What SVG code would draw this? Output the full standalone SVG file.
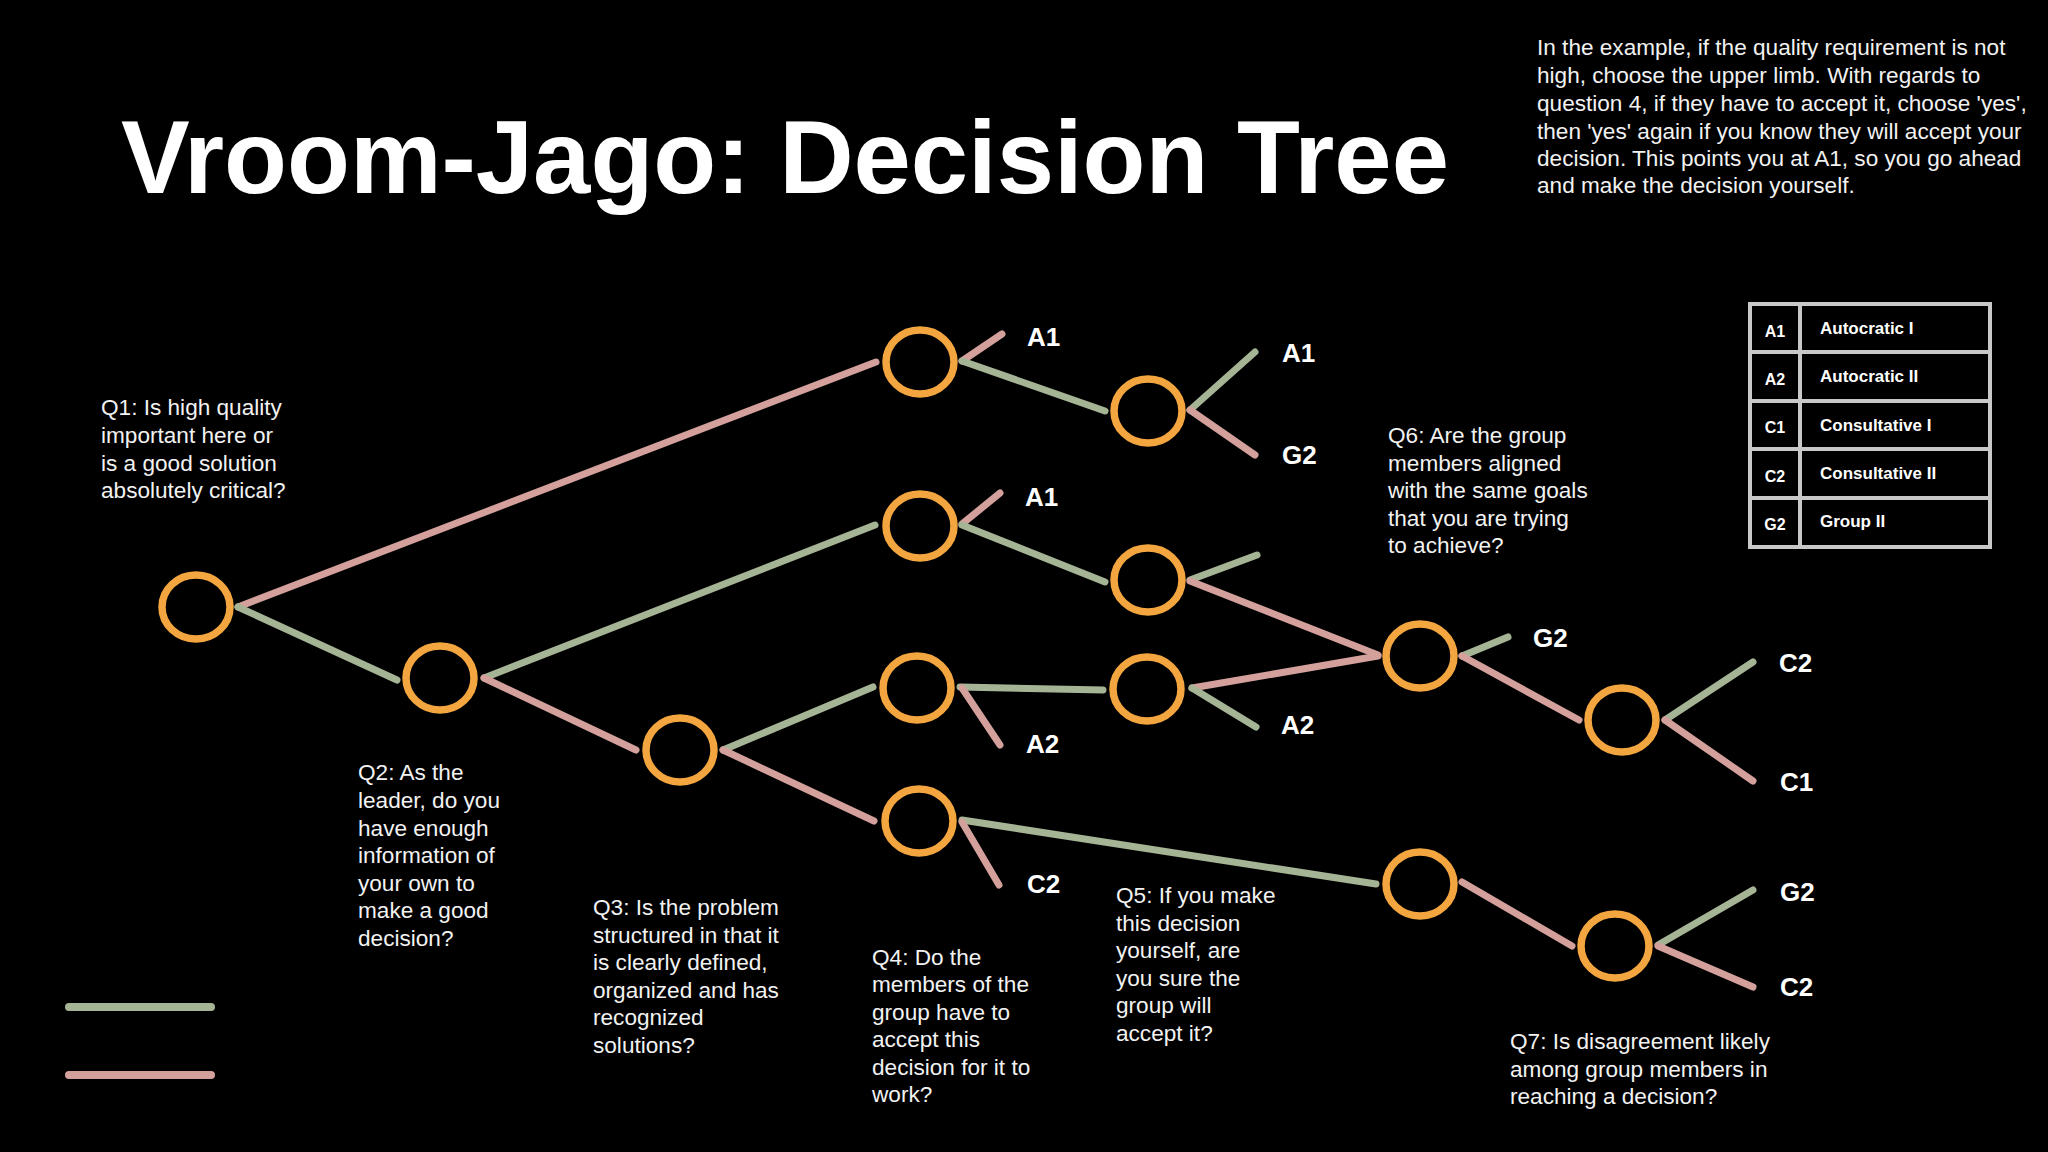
<svg xmlns="http://www.w3.org/2000/svg" width="2048" height="1152" viewBox="0 0 2048 1152">
  <style>
    .bg { fill: #000000; }
    .node { fill: none; stroke: #f3a53f; stroke-width: 7.5; }
    .yes { stroke: #a5b494; stroke-width: 7; stroke-linecap: round; fill: none; }
    .no { stroke: #d3a09c; stroke-width: 7; stroke-linecap: round; fill: none; }
    .title { font-family: "Liberation Sans", Arial, sans-serif; font-weight: bold; font-size: 103px; fill: #ffffff; }
    .body { font-family: "Liberation Sans", Arial, sans-serif; font-size: 22.6px; fill: #f2f2f2; }
    .leaf { font-family: "Liberation Sans", Arial, sans-serif; font-weight: bold; font-size: 26px; fill: #ffffff; }
    .tcode { font-family: "Liberation Sans", Arial, sans-serif; font-weight: bold; font-size: 16px; fill: #ffffff; text-anchor: middle; }
    .tdesc { font-family: "Liberation Sans", Arial, sans-serif; font-weight: bold; font-size: 17px; fill: #ffffff; }
    .grid { stroke: #c8c8c8; stroke-width: 4; fill: none; }
  </style>
  <rect class="bg" x="0" y="0" width="2048" height="1152"/>

  <text class="title" x="121" y="193">Vroom-Jago: Decision Tree</text>

  <g id="note">
    <text class="body" x="1537" y="55">In the example, if the quality requirement is not</text>
    <text class="body" x="1537" y="83">high, choose the upper limb. With regards to</text>
    <text class="body" x="1537" y="111">question 4, if they have to accept it, choose 'yes',</text>
    <text class="body" x="1537" y="139">then 'yes' again if you know they will accept your</text>
    <text class="body" x="1537" y="166">decision. This points you at A1, so you go ahead</text>
    <text class="body" x="1537" y="193">and make the decision yourself.</text>
  </g>

  <g id="legend-table">
    <rect class="grid" x="1750" y="304" width="240" height="243"/>
    <line class="grid" x1="1800" y1="304" x2="1800" y2="547"/>
    <line class="grid" x1="1750" y1="352" x2="1990" y2="352"/>
    <line class="grid" x1="1750" y1="401" x2="1990" y2="401"/>
    <line class="grid" x1="1750" y1="449" x2="1990" y2="449"/>
    <line class="grid" x1="1750" y1="498" x2="1990" y2="498"/>
    <text class="tcode" x="1775" y="337">A1</text>
    <text class="tdesc" x="1820" y="334">Autocratic I</text>
    <text class="tcode" x="1775" y="385">A2</text>
    <text class="tdesc" x="1820" y="382">Autocratic II</text>
    <text class="tcode" x="1775" y="433">C1</text>
    <text class="tdesc" x="1820" y="431">Consultative I</text>
    <text class="tcode" x="1775" y="482">C2</text>
    <text class="tdesc" x="1820" y="479">Consultative II</text>
    <text class="tcode" x="1775" y="530">G2</text>
    <text class="tdesc" x="1820" y="527">Group II</text>
  </g>

  <g id="legend-lines">
    <line class="yes" x1="69" y1="1007" x2="211" y2="1007" style="stroke-width:8"/>
    <line class="no" x1="69" y1="1075" x2="211" y2="1075" style="stroke-width:8"/>
  </g>

  <g id="connectors">
    <line class="no" x1="238" y1="607" x2="876" y2="362"/>
    <line class="yes" x1="238" y1="607" x2="397" y2="680"/>
    <line class="yes" x1="484" y1="678" x2="875" y2="525"/>
    <line class="no" x1="484" y1="678" x2="636" y2="750"/>
    <line class="yes" x1="723" y1="750" x2="873" y2="687"/>
    <line class="no" x1="723" y1="750" x2="874" y2="821"/>
    <line class="no" x1="962" y1="361" x2="1002" y2="334"/>
    <line class="yes" x1="962" y1="361" x2="1105" y2="411"/>
    <line class="yes" x1="1190" y1="410" x2="1255" y2="352"/>
    <line class="no" x1="1190" y1="410" x2="1255" y2="455"/>
    <line class="no" x1="962" y1="524" x2="1000" y2="493"/>
    <line class="yes" x1="962" y1="525" x2="1105" y2="582"/>
    <line class="yes" x1="1190" y1="580" x2="1257" y2="555"/>
    <line class="no" x1="1190" y1="581" x2="1378" y2="655"/>
    <line class="yes" x1="960" y1="687" x2="1103" y2="690"/>
    <line class="no" x1="962" y1="688" x2="1000" y2="745"/>
    <line class="no" x1="1192" y1="688" x2="1378" y2="656"/>
    <line class="yes" x1="1192" y1="688" x2="1256" y2="727"/>
    <line class="yes" x1="962" y1="820" x2="1376" y2="884"/>
    <line class="no" x1="962" y1="822" x2="999" y2="885"/>
    <line class="yes" x1="1462" y1="656" x2="1508" y2="637"/>
    <line class="no" x1="1462" y1="656" x2="1579" y2="720"/>
    <line class="yes" x1="1665" y1="720" x2="1753" y2="662"/>
    <line class="no" x1="1665" y1="720" x2="1753" y2="781"/>
    <line class="no" x1="1462" y1="882" x2="1572" y2="946"/>
    <line class="yes" x1="1658" y1="945" x2="1753" y2="890"/>
    <line class="no" x1="1658" y1="946" x2="1753" y2="987"/>
  </g>

  <g id="q1">
    <ellipse class="node" cx="196" cy="607" rx="34" ry="32"/>
    <text class="body" x="101" y="415">Q1: Is high quality</text>
    <text class="body" x="101" y="443">important here or</text>
    <text class="body" x="101" y="471">is a good solution</text>
    <text class="body" x="101" y="498">absolutely critical?</text>
  </g>
  <g id="q2">
    <ellipse class="node" cx="440" cy="678" rx="34" ry="32"/>
    <text class="body" x="358" y="780">Q2: As the</text>
    <text class="body" x="358" y="808">leader, do you</text>
    <text class="body" x="358" y="836">have enough</text>
    <text class="body" x="358" y="863">information of</text>
    <text class="body" x="358" y="891">your own to</text>
    <text class="body" x="358" y="918">make a good</text>
    <text class="body" x="358" y="946">decision?</text>
  </g>
  <g id="q3">
    <ellipse class="node" cx="680" cy="750" rx="34" ry="32"/>
    <text class="body" x="593" y="915">Q3: Is the problem</text>
    <text class="body" x="593" y="943">structured in that it</text>
    <text class="body" x="593" y="970">is clearly defined,</text>
    <text class="body" x="593" y="998">organized and has</text>
    <text class="body" x="593" y="1025">recognized</text>
    <text class="body" x="593" y="1053">solutions?</text>
  </g>
  <g id="q4">
    <ellipse class="node" cx="920" cy="362" rx="34" ry="32"/>
    <ellipse class="node" cx="920" cy="526" rx="34" ry="32"/>
    <ellipse class="node" cx="917" cy="688" rx="34" ry="32"/>
    <ellipse class="node" cx="919" cy="821" rx="34" ry="32"/>
    <text class="body" x="872" y="965">Q4: Do the</text>
    <text class="body" x="872" y="992">members of the</text>
    <text class="body" x="872" y="1020">group have to</text>
    <text class="body" x="872" y="1047">accept this</text>
    <text class="body" x="872" y="1075">decision for it to</text>
    <text class="body" x="872" y="1102">work?</text>
  </g>
  <g id="q5">
    <ellipse class="node" cx="1148" cy="411" rx="34" ry="32"/>
    <ellipse class="node" cx="1148" cy="580" rx="34" ry="32"/>
    <ellipse class="node" cx="1147" cy="689" rx="34" ry="32"/>
    <ellipse class="node" cx="1420" cy="884" rx="34" ry="32"/>
    <text class="body" x="1116" y="903">Q5: If you make</text>
    <text class="body" x="1116" y="931">this decision</text>
    <text class="body" x="1116" y="958">yourself, are</text>
    <text class="body" x="1116" y="986">you sure the</text>
    <text class="body" x="1116" y="1013">group will</text>
    <text class="body" x="1116" y="1041">accept it?</text>
  </g>
  <g id="q6">
    <ellipse class="node" cx="1420" cy="656" rx="34" ry="32"/>
    <text class="body" x="1388" y="443">Q6: Are the group</text>
    <text class="body" x="1388" y="471">members aligned</text>
    <text class="body" x="1388" y="498">with the same goals</text>
    <text class="body" x="1388" y="526">that you are trying</text>
    <text class="body" x="1388" y="553">to achieve?</text>
  </g>
  <g id="q7">
    <ellipse class="node" cx="1622" cy="720" rx="34" ry="32"/>
    <ellipse class="node" cx="1615" cy="946" rx="34" ry="32"/>
    <text class="body" x="1510" y="1049">Q7: Is disagreement likely</text>
    <text class="body" x="1510" y="1077">among group members in</text>
    <text class="body" x="1510" y="1104">reaching a decision?</text>
  </g>

  <g id="outcomes">
    <text class="leaf" x="1027" y="346">A1</text>
    <text class="leaf" x="1282" y="362">A1</text>
    <text class="leaf" x="1282" y="464">G2</text>
    <text class="leaf" x="1025" y="506">A1</text>
    <text class="leaf" x="1026" y="753">A2</text>
    <text class="leaf" x="1281" y="734">A2</text>
    <text class="leaf" x="1027" y="893">C2</text>
    <text class="leaf" x="1533" y="647">G2</text>
    <text class="leaf" x="1779" y="672">C2</text>
    <text class="leaf" x="1780" y="791">C1</text>
    <text class="leaf" x="1780" y="901">G2</text>
    <text class="leaf" x="1780" y="996">C2</text>
  </g>
</svg>
